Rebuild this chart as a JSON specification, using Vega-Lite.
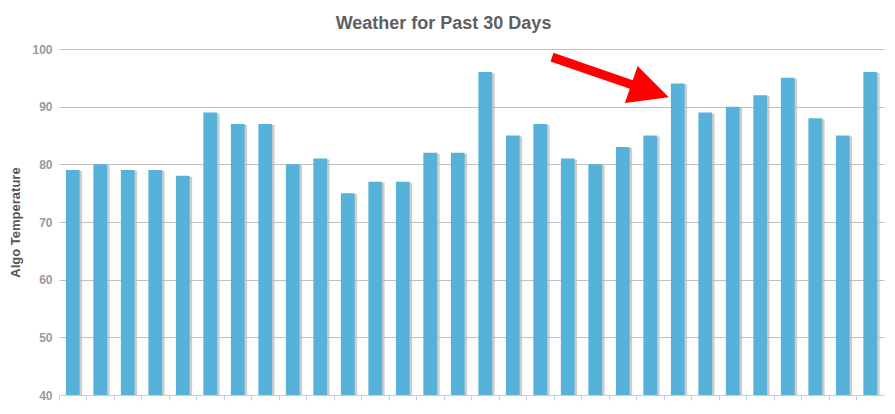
{
  "$schema": "https://vega.github.io/schema/vega-lite/v6.json",
  "autosize": {"type": "none"},
  "padding": {"left": 59, "top": 49, "right": 11, "bottom": 19},
  "width": 825,
  "height": 346,
  "background": "white",
  "config": {
    "font": "Liberation Sans",
    "view": {"stroke": null}
  },
  "title": {
    "text": "Weather for Past 30 Days",
    "fontSize": 18,
    "fontWeight": "bold",
    "color": "#5f5f5f",
    "dx": -28,
    "offset": 10
  },
  "datasets": {
    "weather": [
      {"day": 1, "temp": 79}, {"day": 2, "temp": 80}, {"day": 3, "temp": 79},
      {"day": 4, "temp": 79}, {"day": 5, "temp": 78}, {"day": 6, "temp": 89},
      {"day": 7, "temp": 87}, {"day": 8, "temp": 87}, {"day": 9, "temp": 80},
      {"day": 10, "temp": 81}, {"day": 11, "temp": 75}, {"day": 12, "temp": 77},
      {"day": 13, "temp": 77}, {"day": 14, "temp": 82}, {"day": 15, "temp": 82},
      {"day": 16, "temp": 96}, {"day": 17, "temp": 85}, {"day": 18, "temp": 87},
      {"day": 19, "temp": 81}, {"day": 20, "temp": 80}, {"day": 21, "temp": 83},
      {"day": 22, "temp": 85}, {"day": 23, "temp": 94}, {"day": 24, "temp": 89},
      {"day": 25, "temp": 90}, {"day": 26, "temp": 92}, {"day": 27, "temp": 95},
      {"day": 28, "temp": 88}, {"day": 29, "temp": 85}, {"day": 30, "temp": 96}
    ],
    "arrow": [
      {"pos": 20.05, "temp": 95.1}
    ]
  },
  "layer": [
    {
      "data": {"name": "weather"},
      "encoding": {
        "x": {
          "field": "day",
          "type": "ordinal",
          "scale": {"paddingInner": 0.5, "paddingOuter": 0.25},
          "axis": {
            "title": null,
            "labels": false,
            "bandPosition": -0.5,
            "domainColor": "#c0d0e0",
            "tickColor": "#c0d0e0",
            "tickSize": 5,
            "grid": false
          }
        },
        "y": {
          "field": "temp",
          "type": "quantitative",
          "scale": {"domain": [40, 100], "zero": false, "nice": false},
          "axis": {
            "title": "Algo Temperature",
            "titleFontSize": 13,
            "titleFontWeight": "bold",
            "titleColor": "#555555",
            "titlePadding": 9,
            "values": [40, 50, 60, 70, 80, 90, 100],
            "labelFontSize": 12,
            "labelFontWeight": "bold",
            "labelColor": "#9a9a9a",
            "labelPadding": 7,
            "ticks": false,
            "domain": false,
            "grid": true,
            "gridColor": "#c0c0c0",
            "gridWidth": 1
          }
        }
      },
      "layer": [
        {"mark": {"type": "bar", "color": "#b8b8b8", "opacity": 0.7, "xOffset": 2.5, "yOffset": 1, "clip": true}},
        {"mark": {"type": "bar", "color": "#56b2d9", "clip": true}}
      ]
    },
    {
      "data": {"name": "arrow"},
      "mark": {
        "type": "point",
        "filled": true,
        "color": "#ff0000",
        "opacity": 1,
        "size": 16900,
        "angle": 19,
        "shape": "M-0.95,-0.07L0.34,-0.07L0.34,-0.3L0.95,0L0.34,0.3L0.34,0.07L-0.95,0.07Z"
      },
      "encoding": {
        "x": {"field": "pos", "type": "quantitative", "scale": {"domain": [0, 30]}, "axis": null},
        "y": {"field": "temp", "type": "quantitative"}
      }
    }
  ],
  "resolve": {"scale": {"x": "independent"}, "axis": {"x": "independent"}}
}
